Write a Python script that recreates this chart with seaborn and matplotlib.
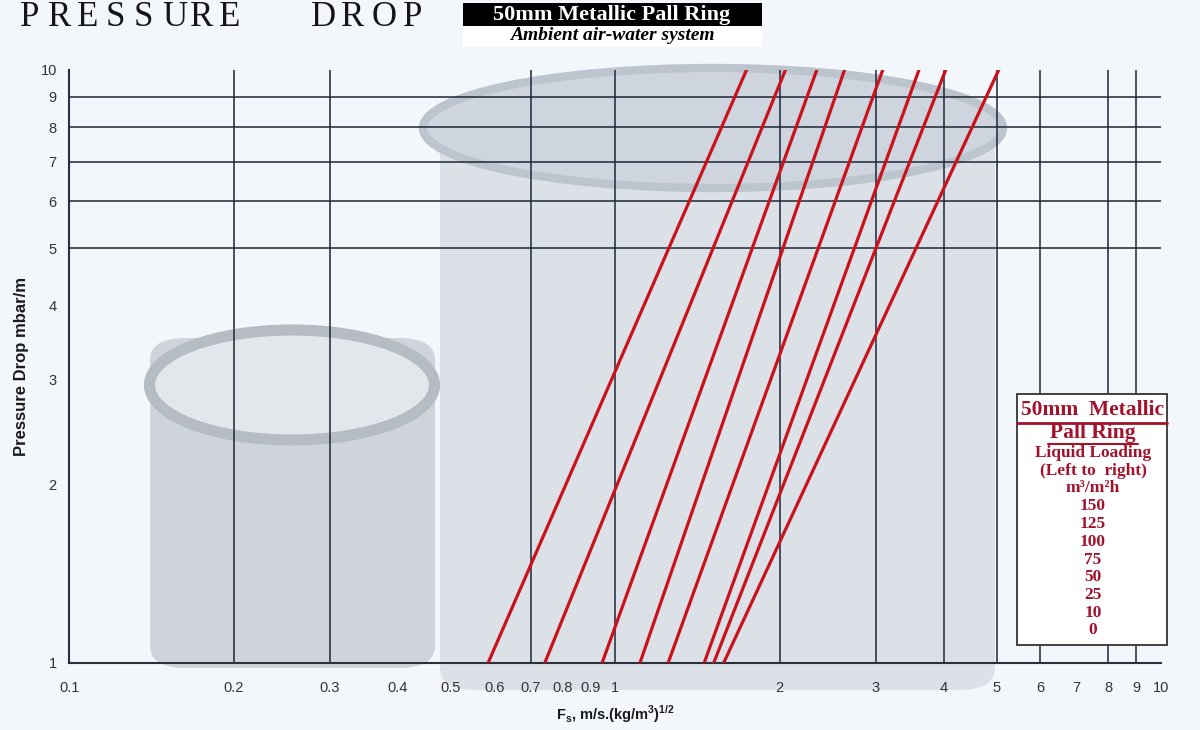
"""
Pressure drop chart for 50mm metallic Pall rings (air-water system).
"""
import matplotlib
matplotlib.use("Agg")
import matplotlib.pyplot as plt
from matplotlib.patches import Rectangle, FancyBboxPatch, Ellipse
from matplotlib.lines import Line2D
from matplotlib.ticker import FixedLocator, FixedFormatter, NullLocator
import pandas as pd
import seaborn as sns

# liquid loading, m3/m2h (left to right)
loadings = [150, 125, 100, 75, 50, 25, 10, 0]
# F-factor where each line meets dp = 1 and dp = 10 mbar/m
fs_at_dp1 = [0.585, 0.743, 0.946, 1.11, 1.25, 1.455, 1.515, 1.58]
fs_at_dp10 = [1.74, 2.05, 2.34, 2.63, 3.09, 3.60, 4.03, 5.04]
dp_ends = [1, 10]

x_ticks = [0.1, 0.2, 0.3, 0.4, 0.5, 0.6, 0.7, 0.8, 0.9, 1, 2, 3, 4, 5, 6, 7, 8, 9, 10]
x_labels = ["0.1", "0.2", "0.3", "0.4", "0.5", "0.6", "0.7", "0.8", "0.9", "1",
            "2", "3", "4", "5", "6", "7", "8", "9", "10"]
y_ticks = [1, 2, 3, 4, 5, 6, 7, 8, 9, 10]
y_labels = [str(v) for v in y_ticks]
x_grid = [0.2, 0.3, 0.7, 1, 2, 3, 4, 5, 6, 8, 9]
y_grid = [5, 6, 7, 8, 9]

legend_lines = ["Liquid Loading", "(Left to  right)", "m\u00b3/m\u00b2h"] + [str(v) for v in loadings]

W, H = 1200, 730
RED = "#c8121c"
DARKRED = "#a3122c"
GRID = "#1e2636"


def px(x, y):
    return x / W, 1 - y / H


rows = []
for load, a, b in zip(loadings, fs_at_dp1, fs_at_dp10):
    rows.append({"loading": load, "fs": a, "dp": dp_ends[0]})
    rows.append({"loading": load, "fs": b, "dp": dp_ends[1]})
df = pd.DataFrame(rows)

sns.set_theme(style="white")
plt.rcParams["font.family"] = ["Liberation Sans", "DejaVu Sans"]
plt.rcParams["mathtext.fontset"] = "custom"
plt.rcParams["mathtext.rm"] = "Liberation Sans"
plt.rcParams["mathtext.bf"] = "Liberation Sans:bold"

fig = plt.figure(figsize=(W / 100, H / 100), dpi=100)
fig.patch.set_facecolor("#f3f6fa")

# soft silhouettes standing in for the photo of the rings (kept behind the axes)
big_body = FancyBboxPatch(px(440, 690), 555 / W, 560 / H, boxstyle="round,pad=0,rounding_size=0.03",
                          transform=fig.transFigure, facecolor="#dce1e8", edgecolor="none", zorder=0)
big_top = Ellipse(px(713, 128), 580 / W, 120 / H, transform=fig.transFigure,
                  facecolor="#cfd5de", edgecolor="#bcc4ce", linewidth=6, zorder=0)
small_body = FancyBboxPatch(px(150, 668), 285 / W, 330 / H, boxstyle="round,pad=0,rounding_size=0.03",
                            transform=fig.transFigure, facecolor="#cfd4da", edgecolor="none", zorder=0)
small_top = Ellipse(px(292, 385), 285 / W, 110 / H, transform=fig.transFigure,
                    facecolor="#e3e7ec", edgecolor="#b6bcc4", linewidth=8, zorder=0)
for p in (big_body, big_top, small_body, small_top):
    fig.patches.append(p)

ax = fig.add_axes([69.3 / W, 67.3 / H, 1092 / W, 593 / H])
ax.set_zorder(2)
ax.set_facecolor("none")

sns.lineplot(data=df, x="fs", y="dp", hue="loading", palette=[RED] * len(loadings),
             linewidth=2.3, legend=False, ax=ax, zorder=4)

ax.set_xscale("log")
ax.set_yscale("log")
ax.set_xlim(0.1, 10)
ax.set_ylim(1, 10)

for xv in x_grid:
    ax.axvline(xv, color=GRID, linewidth=1.1, zorder=2)
for yv in y_grid:
    ax.axhline(yv, color=GRID, linewidth=1.1, zorder=2)

ax.xaxis.set_major_locator(FixedLocator(x_ticks))
ax.xaxis.set_major_formatter(FixedFormatter(x_labels))
ax.xaxis.set_minor_locator(NullLocator())
ax.yaxis.set_major_locator(FixedLocator(y_ticks))
ax.yaxis.set_major_formatter(FixedFormatter(y_labels))
ax.yaxis.set_minor_locator(NullLocator())
ax.tick_params(axis="x", length=0, pad=13, labelsize=10.5, labelcolor="#333333")
ax.tick_params(axis="y", length=0, pad=9, labelsize=10.5, labelcolor="#333333")

for side in ("top", "right"):
    ax.spines[side].set_visible(False)
for side in ("left", "bottom"):
    ax.spines[side].set_color("#2a3040")
    ax.spines[side].set_linewidth(1.5)

ax.set_xlabel(r"F$_{\bf s}$, m/s.(kg/m$^{\bf 3}$)$^{\bf 1/2}$", fontsize=10.5,
              fontweight="bold", color="#1a1a1a", labelpad=6)
ax.set_ylabel("Pressure Drop mbar/m", fontsize=12, fontweight="bold", color="#1a1a1a", labelpad=8)

# spaced heading
serif = ["Liberation Serif", "DejaVu Serif"]
for i, ch in enumerate("PRESSURE"):
    fig.text(*px(20 + 28.4 * i, 17), ch, fontsize=25, family=serif, color="#151515",
             ha="left", va="center")
for i, ch in enumerate("DROP"):
    fig.text(*px(311 + 30.5 * i, 17), ch, fontsize=25, family=serif, color="#151515",
             ha="left", va="center")

fig.patches.append(Rectangle(px(463, 26), 299 / W, 23 / H, transform=fig.transFigure,
                             facecolor="black", edgecolor="none", zorder=5))
fig.patches.append(Rectangle(px(463, 47), 299 / W, 21 / H, transform=fig.transFigure,
                             facecolor="white", edgecolor="none", zorder=5))
fig.text(*px(612, 15), "50mm Metallic Pall Ring", fontsize=16, fontweight="bold", family=serif,
         color="white", ha="center", va="center", zorder=6)
fig.text(*px(612, 36), "Ambient air-water system", fontsize=14, fontweight="bold", style="italic",
         family=serif, color="black", ha="center", va="center", zorder=6)

# legend box on the right
fig.patches.append(Rectangle(px(1017, 645), 150 / W, 251 / H, transform=fig.transFigure,
                             facecolor="white", edgecolor="#333333", linewidth=1.3, zorder=5))
fig.text(*px(1093, 410), "50mm  Metallic", fontsize=15.5, fontweight="bold", family=serif,
         color=DARKRED, ha="center", va="center", zorder=6)
fig.lines.append(Line2D([1017 / W, 1167 / W], [1 - 423 / H, 1 - 423 / H], transform=fig.transFigure,
                        color=DARKRED, linewidth=2, zorder=6))
fig.text(*px(1093, 433), "Pall Ring", fontsize=15.5, fontweight="bold", family=serif,
         color=DARKRED, ha="center", va="center", zorder=6)
fig.lines.append(Line2D([1048 / W, 1138 / W], [1 - 444 / H, 1 - 444 / H], transform=fig.transFigure,
                        color=DARKRED, linewidth=1.5, zorder=6))
for i, txt in enumerate(legend_lines):
    fig.text(*px(1093, 453 + 17.75 * i), txt, fontsize=12.5, fontweight="bold", family=serif,
             color=DARKRED, ha="center", va="center", zorder=6)

fig.savefig("out.png", dpi=100, facecolor=fig.get_facecolor())
plt.close(fig)
